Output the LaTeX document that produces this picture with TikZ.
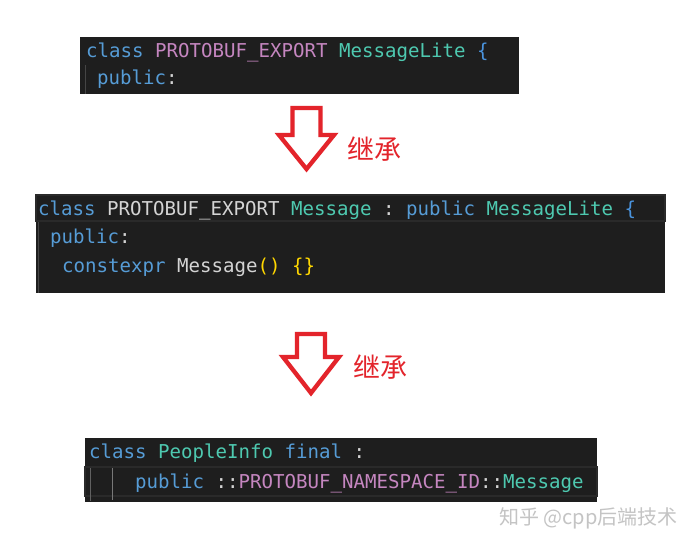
\documentclass[tikz,border=0pt]{standalone}
\usepackage{fontspec}
\newfontfamily\codefont{DejaVu Sans Mono}
\newfontfamily\cjkfont{Noto Sans CJK SC}
\frenchspacing
\definecolor{codebg}{HTML}{1E1E1E}
\definecolor{ckwc}{HTML}{569CD6}
\definecolor{cmacc}{HTML}{C586C0}
\definecolor{ctyc}{HTML}{4EC9B0}
\definecolor{cdefc}{HTML}{D4D4D4}
\definecolor{cylc}{HTML}{FFD700}
\definecolor{cblc}{HTML}{4A94DE}
\definecolor{arrowred}{HTML}{E3242B}
\definecolor{wmgray}{HTML}{C4C4C4}
\definecolor{guidec}{HTML}{454545}
\definecolor{curlinec}{HTML}{2A2A2A}
\newcommand\ckw[1]{\textcolor{ckwc}{#1}}
\newcommand\cmac[1]{\textcolor{cmacc}{#1}}
\newcommand\cty[1]{\textcolor{ctyc}{#1}}
\newcommand\cyl[1]{\textcolor{cylc}{#1}}
\newcommand\cbl[1]{\textcolor{cblc}{#1}}
\begin{document}
\begin{tikzpicture}[x=1pt,y=-1pt,
  codeline/.style={anchor=base west,inner sep=0pt,text=cdefc,
    font=\codefont\fontsize{19.1}{19.1}\selectfont\frenchspacing},
  codebox/.style={fill=codebg},
  guide/.style={draw=guidec,line width=1pt},
  curline/.style={draw=curlinec,line width=1.5pt},
  blockarrow/.style={draw=arrowred,line width=4.3pt,line join=miter,fill=white},
  inherit/.style={text=arrowred,inner sep=0pt,
    font=\cjkfont\fontsize{27}{27}\selectfont},
  watermark/.style={text=wmgray,inner sep=0pt,anchor=west,
    font=\cjkfont\fontsize{20}{20}\selectfont}]
\useasboundingbox[fill=white] (0,0) rectangle (698,549);

% box 1
\fill[codebox] (80,37) rectangle (519,94);
\draw[guide] (85,65) -- (85,94);
\node[codeline] (b1a) at (86,57) {\ckw{class} \cmac{PROTOBUF\_EXPORT} \cty{MessageLite} \cbl{\{}};
\node[codeline] (b1b) at (97,84) {\ckw{public}:};

% arrow 1
\draw[blockarrow] (292.5,108) -- (320.5,108) -- (320.5,135) -- (334,135)
  -- (306.5,169) -- (279,135) -- (292.5,135) -- cycle;
\node[inherit] (inh1) at (374,149) {继承};

% box 2
\fill[codebox] (36,194) rectangle (665,293);
\draw[curline] (36,195) rectangle (665,221);
\draw[guide] (38,222) -- (38,293);
\node[codeline] (b2a) at (38,215) {\ckw{class} PROTOBUF\_EXPORT \cty{Message} : \ckw{public} \cty{MessageLite} \cbl{\{}};
\node[codeline] (b2b) at (50,243) {\ckw{public}:};
\node[codeline] (b2c) at (62,272) {\ckw{constexpr} Message\cyl{()} \cyl{\{\}}};

% arrow 2
\draw[blockarrow] (297,334) -- (325,334) -- (325,357) -- (339,357)
  -- (311,393) -- (283,357) -- (297,357) -- cycle;
\node[inherit] (inh2) at (380,367) {继承};

% box 3
\fill[codebox] (85,438) rectangle (597,502);
\draw[curline] (85,467) rectangle (597,496);
\draw[draw=codebg!70!white,line width=1pt] (90,468) -- (90,501);
\draw[draw=codebg!60!white,line width=1pt] (112,468) -- (112,500);
\node[codeline] (b3a) at (89,458) {\ckw{class} \cty{PeopleInfo} \ckw{final} :};
\node[codeline] (b3b) at (135,488) {\ckw{public} ::\cmac{PROTOBUF\_NAMESPACE\_ID}::\cty{Message}};

% watermark
\node[watermark] (wm) at (499,518) {知乎 @cpp后端技术};
\end{tikzpicture}
\end{document}
